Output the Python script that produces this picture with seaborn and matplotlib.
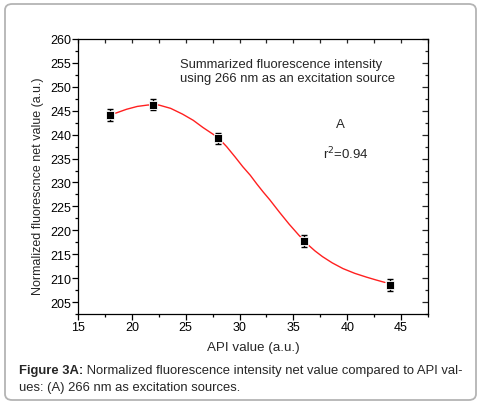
import matplotlib
matplotlib.use("Agg")
import matplotlib.pyplot as plt
import seaborn as sns
import pandas as pd
from matplotlib.patches import FancyBboxPatch
from matplotlib.ticker import MultipleLocator

# measured points
api_values = [18, 22, 28, 36, 44]
intensity = [244.1, 246.3, 239.2, 217.8, 208.6]
intensity_err = [1.2, 1.2, 1.2, 1.2, 1.2]

# fitted curve
fit_x = [18.5, 19.5, 20.5, 21.5, 22.5, 23.6, 24.7, 25.7, 26.6, 27.4, 28.0,
         28.8, 29.6, 30.3, 31.0, 31.6, 32.2, 32.8, 33.7, 34.6, 35.5, 36.3,
         37.0, 37.7, 38.6, 39.6, 40.7, 41.8, 42.7, 43.5]
fit_y = [244.5, 245.3, 245.9, 246.2, 246.2, 245.5, 244.3, 243.0, 241.5, 240.3, 239.4,
         237.5, 235.3, 233.3, 231.5, 229.7, 228.0, 226.4, 223.8, 221.3, 219.0, 217.1,
         215.7, 214.5, 213.2, 212.0, 211.0, 210.2, 209.6, 209.1]

df_pts = pd.DataFrame({"x": api_values, "y": intensity, "err": intensity_err})
df_fit = pd.DataFrame({"x": fit_x, "y": fit_y})

sns.set_style("white")
plt.rcParams["font.family"] = ["Liberation Sans", "DejaVu Sans"]

fig = plt.figure(figsize=(4.81, 4.06), dpi=100)

# rounded frame around the figure
frame = FancyBboxPatch((5 / 481, 5 / 406), 471 / 481, 396 / 406,
                       boxstyle="round,pad=0,rounding_size=0.015",
                       transform=fig.transFigure, facecolor="none",
                       edgecolor="#b4b4b4", linewidth=1.3, zorder=-1)
fig.add_artist(frame)

ax = fig.add_axes([78 / 481, 1 - 315 / 406, 350 / 481, 275 / 406])
ax.set_facecolor("none")

# fitted curve
sns.lineplot(data=df_fit, x="x", y="y", ax=ax, color="#ff2020", linewidth=1.0,
             sort=False, zorder=2)

# error bars + square markers
ax.errorbar(df_pts["x"], df_pts["y"], yerr=df_pts["err"], fmt="none",
            ecolor="black", elinewidth=1.0, capsize=2.5, capthick=1.0, zorder=3)
sns.scatterplot(data=df_pts, x="x", y="y", ax=ax, marker="s", s=36,
                color="black", edgecolor="white", linewidth=0.6, zorder=4)

ax.set_xlim(15, 47.5)
ax.set_ylim(202.5, 260)
ax.xaxis.set_major_locator(MultipleLocator(5))
ax.xaxis.set_minor_locator(MultipleLocator(2.5))
ax.yaxis.set_major_locator(MultipleLocator(5))
ax.yaxis.set_minor_locator(MultipleLocator(2.5))

for side in ["left", "right", "top", "bottom"]:
    ax.spines[side].set_visible(True)
    ax.spines[side].set_color("black")
    ax.spines[side].set_linewidth(0.9)

ax.tick_params(which="both", bottom=True, left=True, top=False, right=False,
               direction="out", colors="black", labelsize=9, pad=1)
ax.tick_params(which="major", length=4, width=0.9)
ax.tick_params(which="minor", length=2.2, width=0.9)

# inward ticks on top and right
ax_top = ax.secondary_xaxis("top")
ax_top.xaxis.set_major_locator(MultipleLocator(2.5))
ax_top.tick_params(direction="in", length=3, width=0.9, labeltop=False)
ax_top.spines["top"].set_visible(False)
ax_right = ax.secondary_yaxis("right")
ax_right.yaxis.set_major_locator(MultipleLocator(5))
ax_right.yaxis.set_minor_locator(MultipleLocator(2.5))
ax_right.tick_params(which="major", direction="in", length=4, width=0.9, labelright=False)
ax_right.tick_params(which="minor", direction="in", length=2.2, width=0.9)
ax_right.spines["right"].set_visible(False)

ax.set_xlabel("API value (a.u.)", fontsize=9.6, labelpad=6)
ax.set_ylabel("Normalized fluorescnce net value (a.u.)", fontsize=9)
ax.yaxis.set_label_coords(-0.097, 0.469)

ax.text(0.292, 0.93, "Summarized fluorescence intensity\nusing 266 nm as an excitation source",
        transform=ax.transAxes, fontsize=9.4, va="top", ha="left", linespacing=1.15)
ax.text(0.749, 0.69, "A", transform=ax.transAxes, fontsize=9.5, ha="center", va="center")
ax.text(0.70, 0.585, "r$^2$=0.94", transform=ax.transAxes, fontsize=9.5,
        ha="left", va="center")

# caption
cap = fig.text(19 / 481, 1 - 371 / 406, "Figure 3A:", fontsize=9.4,
               fontweight="bold", va="center", ha="left")
fig.canvas.draw()
bb = cap.get_window_extent().transformed(fig.transFigure.inverted())
fig.text(bb.x1, 1 - 371 / 406, " Normalized fluorescence intensity net value compared to API val-",
         fontsize=9.4, va="center", ha="left")
fig.text(19 / 481, 1 - 388 / 406, "ues: (A) 266 nm as excitation sources.",
         fontsize=9.4, va="center", ha="left")

fig.savefig("out.png", dpi=100)
